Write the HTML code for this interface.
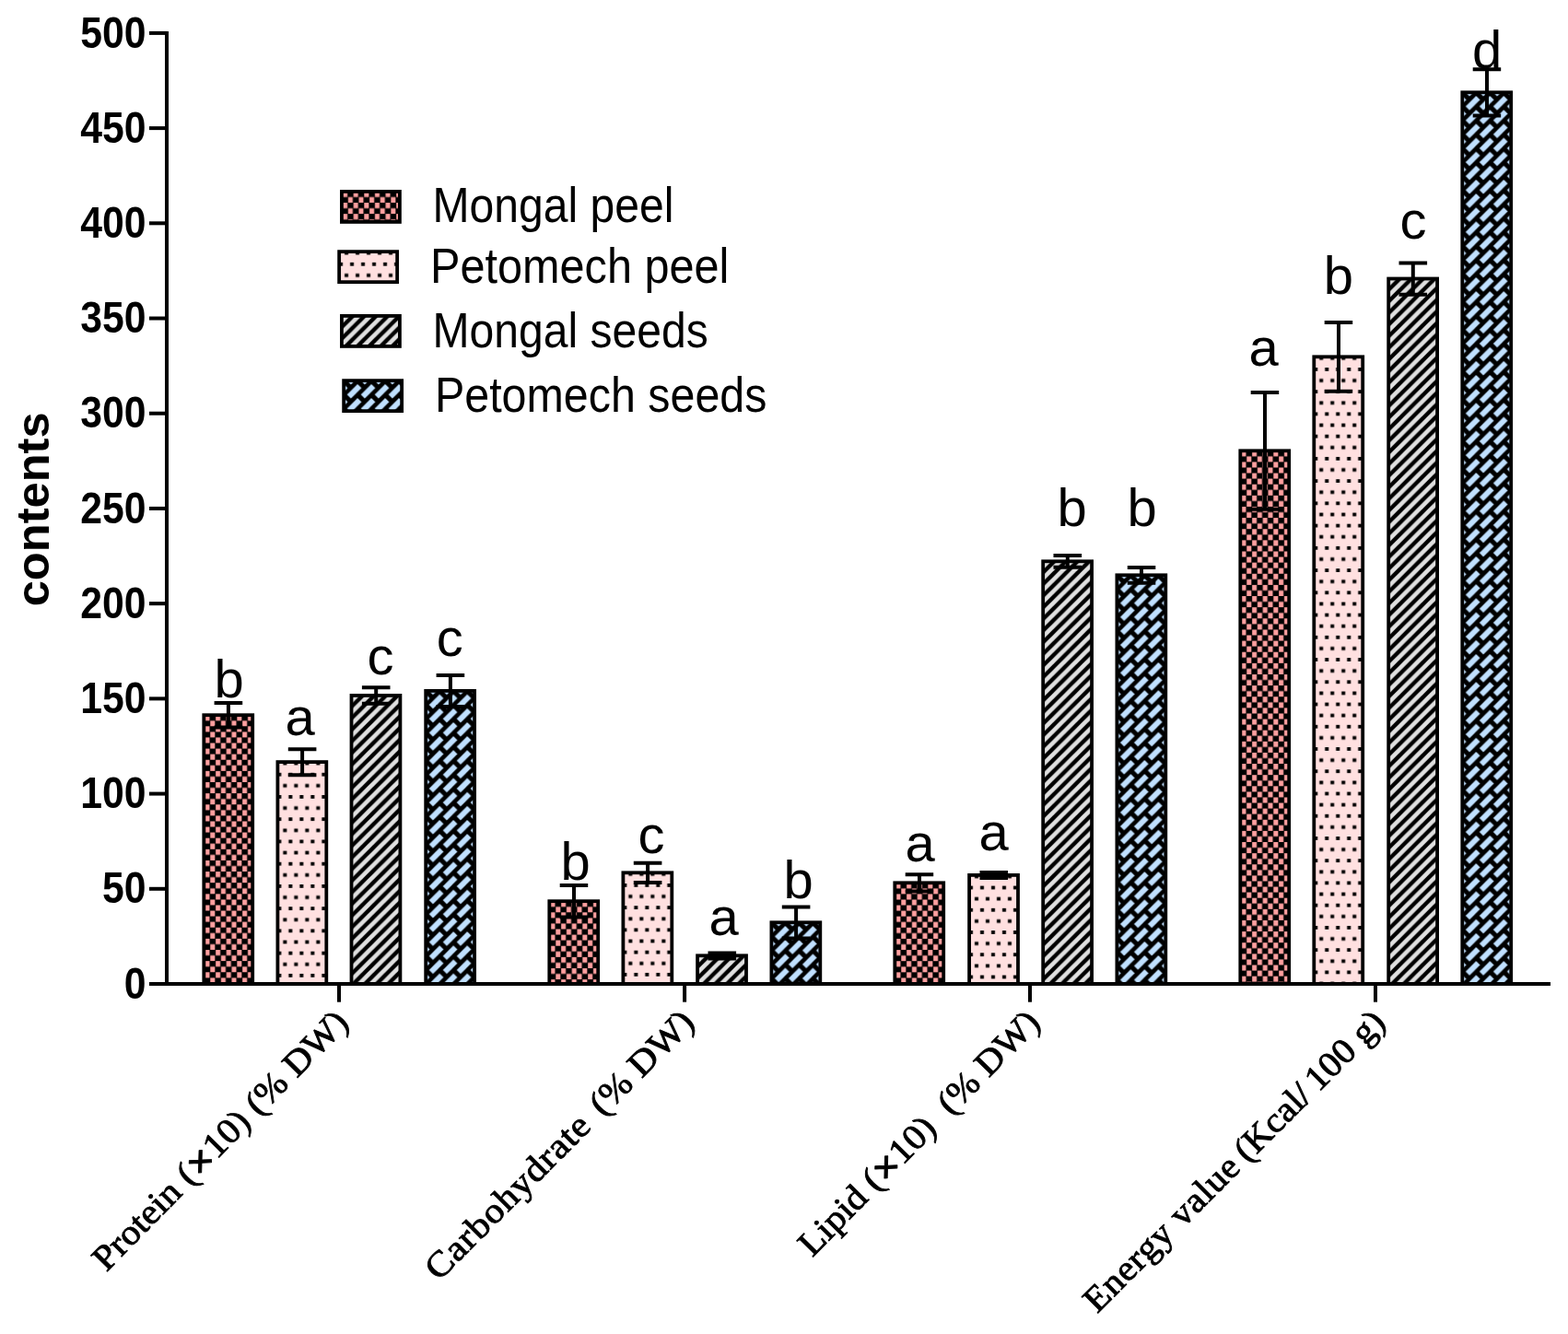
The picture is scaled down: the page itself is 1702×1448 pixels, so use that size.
<!DOCTYPE html>
<html lang="en">
<head>
<meta charset="utf-8">
<title>Proximate contents of peel and seeds</title>
<style>
html,body{margin:0;padding:0;background:#fff;}
body{width:1702px;height:1448px;overflow:hidden;}
svg{display:block;}
.sb{font-family:"Liberation Sans",Arial,Helvetica,sans-serif;font-weight:bold;}
.sr{font-family:"Liberation Sans",Arial,Helvetica,sans-serif;font-weight:normal;}
.xb{font-family:"Liberation Serif","Times New Roman",serif;font-weight:normal;}
</style>
</head>
<body>
<svg width="1702" height="1448" viewBox="0 0 1702 1448">
<defs>
<pattern id="pChk" patternUnits="userSpaceOnUse" x="0" y="0" width="11.62" height="12.135">
<rect x="0" y="0" width="11.62" height="12.135" fill="#000"/>
<rect x="3.1" y="1.92" width="5" height="6.03" fill="#ffa0a0"/>
<rect x="8.9" y="7.95" width="5" height="6.03" fill="#ffa0a0"/>
<rect x="-2.72" y="7.95" width="5" height="6.03" fill="#ffa0a0"/>
<rect x="8.9" y="-4.18" width="5" height="6.03" fill="#ffa0a0"/>
<rect x="-2.72" y="-4.18" width="5" height="6.03" fill="#ffa0a0"/>
</pattern>
<pattern id="pDot" patternUnits="userSpaceOnUse" x="0" y="0" width="12.0" height="24.24"><rect x="0" y="0" width="12.0" height="24.24" fill="#ffe0e0"/><rect x="7.80" y="1.50" width="4" height="3.8" fill="#000"/><rect x="7.80" y="25.74" width="4" height="3.8" fill="#000"/><rect x="1.80" y="13.60" width="4" height="3.8" fill="#000"/><rect x="1.80" y="-10.64" width="4" height="3.8" fill="#000"/></pattern>
<pattern id="pHat" patternUnits="userSpaceOnUse" x="0" y="0" width="12.62" height="12.62">
<rect x="0" y="0" width="12.62" height="12.62" fill="#e0e0e0"/>
<path d="M-12.62 16.02 L16.02 -12.62 M-12.62 28.639999999999997 L28.639999999999997 -12.62 M-12.62 3.4 L3.4 -12.62" stroke="#000" stroke-width="4.3" fill="none"/>
</pattern>
<pattern id="pBrk" patternUnits="userSpaceOnUse" x="0" y="0" width="15.0" height="15.147"><rect x="0" y="0" width="15.0" height="15.147" fill="#000"/><rect x="-8.1" y="-3" width="16.2" height="6" fill="#c0e0ff" transform="translate(-16.70 -16.79) rotate(-45)"/><rect x="-8.1" y="-3" width="16.2" height="6" fill="#c0e0ff" transform="translate(-16.70 -1.65) rotate(-45)"/><rect x="-8.1" y="-3" width="16.2" height="6" fill="#c0e0ff" transform="translate(-16.70 13.50) rotate(-45)"/><rect x="-8.1" y="-3" width="16.2" height="6" fill="#c0e0ff" transform="translate(-16.70 28.65) rotate(-45)"/><rect x="-8.1" y="-3" width="16.2" height="6" fill="#c0e0ff" transform="translate(-1.70 -16.79) rotate(-45)"/><rect x="-8.1" y="-3" width="16.2" height="6" fill="#c0e0ff" transform="translate(-1.70 -1.65) rotate(-45)"/><rect x="-8.1" y="-3" width="16.2" height="6" fill="#c0e0ff" transform="translate(-1.70 13.50) rotate(-45)"/><rect x="-8.1" y="-3" width="16.2" height="6" fill="#c0e0ff" transform="translate(-1.70 28.65) rotate(-45)"/><rect x="-8.1" y="-3" width="16.2" height="6" fill="#c0e0ff" transform="translate(13.30 -16.79) rotate(-45)"/><rect x="-8.1" y="-3" width="16.2" height="6" fill="#c0e0ff" transform="translate(13.30 -1.65) rotate(-45)"/><rect x="-8.1" y="-3" width="16.2" height="6" fill="#c0e0ff" transform="translate(13.30 13.50) rotate(-45)"/><rect x="-8.1" y="-3" width="16.2" height="6" fill="#c0e0ff" transform="translate(13.30 28.65) rotate(-45)"/><rect x="-8.1" y="-3" width="16.2" height="6" fill="#c0e0ff" transform="translate(28.30 -16.79) rotate(-45)"/><rect x="-8.1" y="-3" width="16.2" height="6" fill="#c0e0ff" transform="translate(28.30 -1.65) rotate(-45)"/><rect x="-8.1" y="-3" width="16.2" height="6" fill="#c0e0ff" transform="translate(28.30 13.50) rotate(-45)"/><rect x="-8.1" y="-3" width="16.2" height="6" fill="#c0e0ff" transform="translate(28.30 28.65) rotate(-45)"/></pattern>
</defs>
<rect x="0" y="0" width="1702" height="1448" fill="#fff"/>
<g id="bars">
<g transform="translate(219.4 774.3)"><rect x="0" y="0" width="56.7" height="293.7" fill="#000"/><rect x="3.8" y="3.8" width="49.1" height="289.9" fill="url(#pChk)"/></g>
<g transform="translate(299.5 825.2)"><rect x="0" y="0" width="56.7" height="242.8" fill="#000"/><rect x="3.8" y="3.8" width="49.1" height="239.0" fill="url(#pDot)"/></g>
<g transform="translate(379.6 753.0)"><rect x="0" y="0" width="56.7" height="315.0" fill="#000"/><rect x="3.8" y="3.8" width="49.1" height="311.2" fill="url(#pHat)"/></g>
<g transform="translate(460.3 748.0)"><rect x="0" y="0" width="56.7" height="320.0" fill="#000"/><rect x="3.8" y="3.8" width="49.1" height="316.2" fill="url(#pBrk)"/></g>
<g transform="translate(594.4 976.3)"><rect x="0" y="0" width="56.7" height="91.7" fill="#000"/><rect x="3.8" y="3.8" width="49.1" height="87.9" fill="url(#pChk)"/></g>
<g transform="translate(674.5 945.4)"><rect x="0" y="0" width="56.7" height="122.6" fill="#000"/><rect x="3.8" y="3.8" width="49.1" height="118.8" fill="url(#pDot)"/></g>
<g transform="translate(755.2 1035.4)"><rect x="0" y="0" width="56.7" height="32.6" fill="#000"/><rect x="3.8" y="3.8" width="49.1" height="28.8" fill="url(#pHat)"/></g>
<g transform="translate(835.5 999.4)"><rect x="0" y="0" width="56.7" height="68.6" fill="#000"/><rect x="3.8" y="3.8" width="49.1" height="64.8" fill="url(#pBrk)"/></g>
<g transform="translate(969.4 956.4)"><rect x="0" y="0" width="56.7" height="111.6" fill="#000"/><rect x="3.8" y="3.8" width="49.1" height="107.8" fill="url(#pChk)"/></g>
<g transform="translate(1050.2 948.0)"><rect x="0" y="0" width="56.7" height="120.0" fill="#000"/><rect x="3.8" y="3.8" width="49.1" height="116.2" fill="url(#pDot)"/></g>
<g transform="translate(1130.3 607.4)"><rect x="0" y="0" width="56.7" height="460.6" fill="#000"/><rect x="3.8" y="3.8" width="49.1" height="456.8" fill="url(#pHat)"/></g>
<g transform="translate(1210.5 622.4)"><rect x="0" y="0" width="56.7" height="445.6" fill="#000"/><rect x="3.8" y="3.8" width="49.1" height="441.8" fill="url(#pBrk)"/></g>
<g transform="translate(1344.4 487.4)"><rect x="0" y="0" width="56.7" height="580.6" fill="#000"/><rect x="3.8" y="3.8" width="49.1" height="576.8" fill="url(#pChk)"/></g>
<g transform="translate(1424.4 385.4)"><rect x="0" y="0" width="56.7" height="682.6" fill="#000"/><rect x="3.8" y="3.8" width="49.1" height="678.8" fill="url(#pDot)"/></g>
<g transform="translate(1505.3 300.6)"><rect x="0" y="0" width="56.7" height="767.4" fill="#000"/><rect x="3.8" y="3.8" width="49.1" height="763.6" fill="url(#pHat)"/></g>
<g transform="translate(1585.4 98.4)"><rect x="0" y="0" width="56.7" height="969.6" fill="#000"/><rect x="3.8" y="3.8" width="49.1" height="965.8" fill="url(#pBrk)"/></g>
</g>
<g id="errors" stroke="#000" stroke-width="4" fill="none">
<path d="M247.9 763.0V789.6M232.6 763.0H263.2M232.6 789.6H263.2"/>
<path d="M328.1 813.2V841.2M312.8 813.2H343.4M312.8 841.2H343.4"/>
<path d="M408.2 746.3V763.7M392.9 746.3H423.5M392.9 763.7H423.5"/>
<path d="M488.9 733.0V767.0M473.6 733.0H504.2M473.6 767.0H504.2"/>
<path d="M623.0 961.0V995.6M607.7 961.0H638.2M607.7 995.6H638.2"/>
<path d="M703.1 936.7V958.1M687.8 936.7H718.4M687.8 958.1H718.4"/>
<path d="M783.8 1034.4V1040.4M768.5 1034.4H799.1M768.5 1040.4H799.1"/>
<path d="M864.1 984.4V1018.4M848.8 984.4H879.4M848.8 1018.4H879.4"/>
<path d="M998.0 949.2V967.6M982.7 949.2H1013.2M982.7 967.6H1013.2"/>
<path d="M1078.8 947.0V953.0M1063.5 947.0H1094.0M1063.5 953.0H1094.0"/>
<path d="M1158.8 603.0V615.8M1143.5 603.0H1174.1M1143.5 615.8H1174.1"/>
<path d="M1239.0 616.0V632.8M1223.8 616.0H1254.3M1223.8 632.8H1254.3"/>
<path d="M1373.0 426.0V552.8M1357.7 426.0H1388.2M1357.7 552.8H1388.2"/>
<path d="M1453.0 350.1V424.7M1437.7 350.1H1468.2M1437.7 424.7H1468.2"/>
<path d="M1533.8 285.4V319.8M1518.5 285.4H1549.1M1518.5 319.8H1549.1"/>
<path d="M1614.0 75.2V125.6M1598.7 75.2H1629.2M1598.7 125.6H1629.2"/>
</g>
<g id="axes" stroke="#000" stroke-width="4" fill="none">
<path d="M181.0 33.9V1070.0"/>
<path d="M162 1068.0H1683"/>
<path d="M162 1068.00H181.0"/>
<path d="M162 964.79H181.0"/>
<path d="M162 861.58H181.0"/>
<path d="M162 758.37H181.0"/>
<path d="M162 655.16H181.0"/>
<path d="M162 551.95H181.0"/>
<path d="M162 448.74H181.0"/>
<path d="M162 345.53H181.0"/>
<path d="M162 242.32H181.0"/>
<path d="M162 139.11H181.0"/>
<path d="M162 35.90H181.0"/>
<path d="M368.0 1068.0V1087.7"/>
<path d="M743.1 1068.0V1087.7"/>
<path d="M1118.0 1068.0V1087.7"/>
<path d="M1493.0 1068.0V1087.7"/>
</g>
<g id="ticklabels" class="sb" font-size="47.8" text-anchor="end" fill="#000">
<text transform="translate(158.5 1083.6) scale(0.894 1)">0</text>
<text transform="translate(158.5 980.4) scale(0.894 1)">50</text>
<text transform="translate(158.5 877.2) scale(0.894 1)">100</text>
<text transform="translate(158.5 774.0) scale(0.894 1)">150</text>
<text transform="translate(158.5 670.8) scale(0.894 1)">200</text>
<text transform="translate(158.5 567.6) scale(0.894 1)">250</text>
<text transform="translate(158.5 464.3) scale(0.894 1)">300</text>
<text transform="translate(158.5 361.1) scale(0.894 1)">350</text>
<text transform="translate(158.5 257.9) scale(0.894 1)">400</text>
<text transform="translate(158.5 154.7) scale(0.894 1)">450</text>
<text transform="translate(158.5 51.5) scale(0.894 1)">500</text>
</g>
<text class="sb" font-size="50" fill="#000" transform="translate(52.7 658.3) rotate(-90) scale(1.012 1)">contents</text>
<g id="letters" class="sr" font-size="58" fill="#000">
<text x="232.4" y="757.4">b</text>
<text x="309.6" y="797.8">a</text>
<text x="398.6" y="732.4">c</text>
<text x="473.7" y="712.4">c</text>
<text x="608.5" y="955.4">b</text>
<text x="692.5" y="926.4">c</text>
<text x="769.6" y="1015.4">a</text>
<text x="850.6" y="975.0">b</text>
<text x="982.6" y="935.0">a</text>
<text x="1062.6" y="923.0">a</text>
<text x="1147.5" y="571.0">b</text>
<text x="1223.5" y="571.0">b</text>
<text x="1355.6" y="397.4">a</text>
<text x="1436.8" y="319.4">b</text>
<text x="1519.5" y="259.4">c</text>
<text x="1598.1" y="74.4">d</text>
</g>
<g id="legend" class="sr" font-size="52.8" fill="#000">
<g transform="translate(369.0 206.0)"><rect x="0" y="0" width="66.8" height="36.8" fill="#000"/><rect x="3.8" y="3.8" width="59.2" height="29.2" fill="url(#pChk)"/></g>
<text transform="translate(469.56 240.9) scale(0.9105 1)">Mongal peel</text>
<g transform="translate(366.25 271.25)"><rect x="0" y="0" width="66.8" height="36.8" fill="#000"/><rect x="3.8" y="3.8" width="59.2" height="29.2" fill="url(#pDot)"/></g>
<text transform="translate(467.01 306.9) scale(0.9213 1)">Petomech peel</text>
<g transform="translate(369.0 341.0)"><rect x="0" y="0" width="66.8" height="36.8" fill="#000"/><rect x="3.8" y="3.8" width="59.2" height="29.2" fill="url(#pHat)"/></g>
<text transform="translate(469.56 376.9) scale(0.9101 1)">Mongal seeds</text>
<g transform="translate(371.25 411.25)"><rect x="0" y="0" width="66.8" height="36.8" fill="#000"/><rect x="3.8" y="3.8" width="59.2" height="29.2" fill="url(#pBrk)"/></g>
<text transform="translate(471.93 446.9) scale(0.9168 1)">Petomech seeds</text>
</g>
<g id="xlabels" class="xb" font-size="38.5" text-anchor="end" fill="#000" stroke="#000" stroke-width="0.9" stroke-linejoin="round">
<text xml:space="preserve" transform="translate(380.2 1111.7) rotate(-45.5) scale(1.0745 1)">Protein (<tspan font-size="45" font-weight="bold" dy="3.3">×</tspan><tspan dy="-3.3">10) (% DW)</tspan></text>
<text xml:space="preserve" transform="translate(755.7 1111.7) rotate(-45.0) scale(1.0877 1)"><tspan letter-spacing="0.68">Carbohydrate</tspan>  <tspan dx="-4.9">(% DW)</tspan></text>
<text xml:space="preserve" transform="translate(1130.8 1111.7) rotate(-45.5) scale(1.0660 1)">Lipid (<tspan font-size="45" font-weight="bold" dy="3.3">×</tspan><tspan dy="-3.3">10)  (% DW)</tspan></text>
<text xml:space="preserve" transform="translate(1505.5 1111.7) rotate(-45.0) scale(1.0573 1)"><tspan letter-spacing="0.6">Energy value</tspan> <tspan dx="-2">(Kcal/ </tspan><tspan dx="-2.8">100 g)</tspan></text>
</g>
</svg>
</body>
</html>
